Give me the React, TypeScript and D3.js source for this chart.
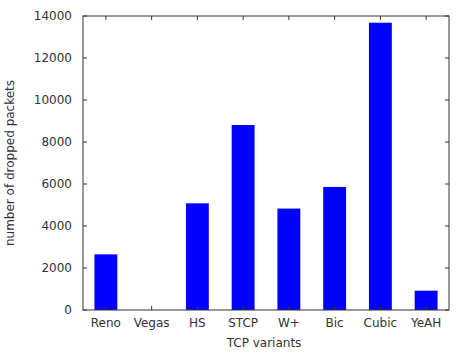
import React from "react";
import * as d3 from "d3";

const categories = ["Reno", "Vegas", "HS", "STCP", "W+", "Bic", "Cubic", "YeAH"];
const values = [2650, 0, 5080, 8810, 4830, 5860, 13680, 920];
const yTicks = [0, 2000, 4000, 6000, 8000, 10000, 12000, 14000];

export default function App() {
  const W = 474, H = 355;
  const left = 83, right = 449, top = 16, bottom = 310;
  const x = d3.scaleLinear().domain([0.5, categories.length + 0.5]).range([left, right]);
  const y = d3.scaleLinear().domain([0, 14000]).range([bottom, top]);
  const bw = (x(1.5) - x(1));
  const font = "DejaVu Sans, sans-serif";
  const axisColor = "#333";
  const textColor = "#333";
  const fs = 12;
  return (
    <svg width={W} height={H} style={{ position: "absolute", left: 0, top: 0 }}>
      <rect width={W} height={H} fill="white" />
      {values.map((v, i) => (
        <rect key={i} x={x(i + 1) - bw / 2} y={y(v)} width={bw} height={y(0) - y(v)} fill="#0000ff" />
      ))}
      <rect x={left} y={top} width={right - left} height={bottom - top} fill="none" stroke={axisColor} strokeWidth={1} />
      {yTicks.map((t) => (
        <g key={t}>
          <line x1={left} x2={left + 4} y1={y(t)} y2={y(t)} stroke={axisColor} />
          <line x1={right} x2={right - 4} y1={y(t)} y2={y(t)} stroke={axisColor} />
          <text x={left - 11} y={y(t)} dy="0.35em" textAnchor="end" fontFamily={font} fontSize={fs} fill={textColor}>{t}</text>
        </g>
      ))}
      {categories.map((c, i) => (
        <g key={c}>
          <line x1={x(i + 1)} x2={x(i + 1)} y1={bottom} y2={bottom - 4} stroke={axisColor} />
          <line x1={x(i + 1)} x2={x(i + 1)} y1={top} y2={top + 4} stroke={axisColor} />
          <text x={x(i + 1)} y={323} dy="0.35em" textAnchor="middle" fontFamily={font} fontSize={fs} fill={textColor}>{c}</text>
        </g>
      ))}
      <text x={(left + right) / 2 - 2} y={343} dy="0.35em" textAnchor="middle" fontFamily={font} fontSize={fs} fill={textColor}>TCP variants</text>
      <text transform={`translate(10,${(top + bottom) / 2}) rotate(-90)`} dy="0.35em" textAnchor="middle" fontFamily={font} fontSize={fs} fill={textColor}>number of dropped packets</text>
    </svg>
  );
}
